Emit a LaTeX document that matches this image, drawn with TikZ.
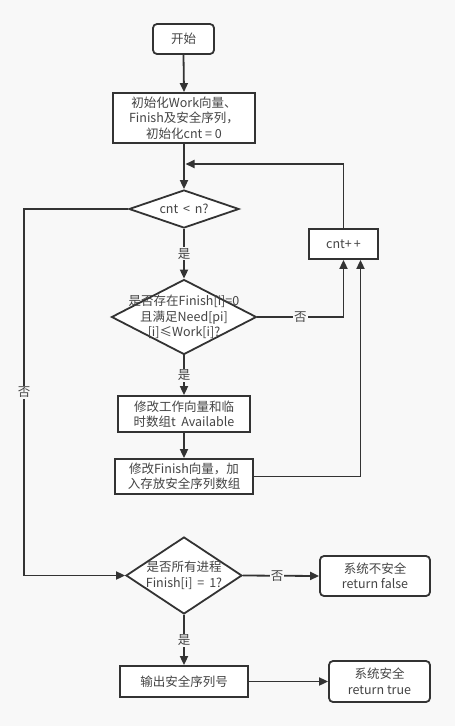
\documentclass[tikz,border=0pt]{standalone}
\usepackage{fontspec}
\newfontfamily\cjk{Noto Sans CJK SC}
\usetikzlibrary{shapes.geometric,arrows.meta}
\definecolor{bg}{HTML}{F8F8F8}
\definecolor{ln}{HTML}{333333}
\definecolor{tx}{HTML}{444444}
\begin{document}
\begin{tikzpicture}[x=1pt,y=-1pt,
 every node/.style={font=\cjk\fontsize{12.5}{15.5}\selectfont, text=tx},
 box/.style={draw=ln, line width=1.8pt, fill=white, inner sep=0pt, align=center},
 rbox/.style={box, rounded corners=4pt},
 dia/.style={draw=ln, line width=1.8pt, fill=white, diamond, inner sep=0pt},
 dtext/.style={align=center, inner sep=0pt},
 arr/.style={draw=ln, line width=1.8pt, -{Triangle[length=9pt,width=8pt]}},
 lab/.style={fill=bg, inner sep=1pt}]
\fill[bg] (0,0) rectangle (455,726);
\useasboundingbox (0,0) rectangle (455,726);

\node[rbox, minimum width=61pt, minimum height=30pt] (start) at (183.5,39) {开始};
\node[box, minimum width=142pt, minimum height=50pt] (init) at (184,118) {初始化Work向量、\\Finish及安全序列，\\初始化cnt = 0};
\node[dia, minimum width=110pt, minimum height=38pt] (d1) at (184,209) {};
\node[dtext] (t1) at (d1.center) {cnt \,<\, n?};
\node[dia, minimum width=145pt, minimum height=75pt] (d2) at (184,317) {};
\node[dtext] (t2) at (d2.center) {是否存在Finish[i]=0\\且满足Need[pi]\\{}[i]≤Work[i]?};
\node[box, minimum width=69pt, minimum height=30pt] (cnt) at (343.5,244) {cnt+\,+};
\node[box, minimum width=132pt, minimum height=36pt] (b3) at (184,414) {修改工作向量和临\\时数组t \ Available};
\node[box, minimum width=138pt, minimum height=35pt] (b4) at (184,476.5) {修改Finish向量，加\\入存放安全序列数组};
\node[dia, minimum width=116pt, minimum height=77pt] (d3) at (184,575.5) {};
\node[dtext] (t3) at (d3.center) {是否所有进程\\Finish[i] \,=\, 1?};
\node[rbox, minimum width=110pt, minimum height=40pt] (f) at (375,576) {系统不安全\\return false};
\node[box, minimum width=128pt, minimum height=31pt] (b5) at (184,681.5) {输出安全序列号};
\node[rbox, minimum width=101pt, minimum height=41pt] (t) at (379.5,681.5) {系统安全\\return true};

\coordinate (merge) at (185.5,164);
\coordinate (leftx) at (24,209);

\draw[arr] (start.south) -- (init.north);
\draw[arr] (init.south) -- (d1.north);
\draw[arr] (cnt.north) |- (merge);
\draw[arr] (d1.south) -- node[lab] (y1) {是} (d2.north);
\draw[arr] (d2.east) -| node[lab, pos=0.25] (n2) {否} (cnt.south);
\draw[arr] (d2.south) -- node[lab] (y2) {是} (b3.north);
\draw[arr] (b3.south) -- (b4.north);
\draw[arr] (b4.east) -| ([xshift=17pt]cnt.south);
\draw[arr] (d1.west) -- (leftx) |- node[lab, pos=0.25] (n1) {否} (d3.west);
\draw[arr] (d3.east) -- node[lab, pos=0.45] (n3) {否} (f.west);
\draw[arr] (d3.south) -- node[lab] (y3) {是} (b5.north);
\draw[arr] (b5.east) -- (t.west);
\end{tikzpicture}
\end{document}
